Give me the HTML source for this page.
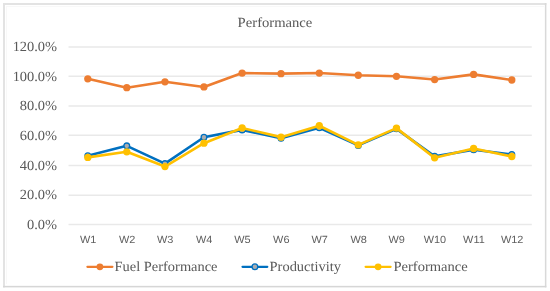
<!DOCTYPE html>
<html lang="en">
<head>
<meta charset="utf-8">
<title>Performance</title>
<style>
html,body{margin:0;padding:0;background:#fff;}
body{width:550px;height:291px;overflow:hidden;}
svg{display:block;}
text{text-rendering:geometricPrecision;}
.ser{font-family:"Liberation Serif","Times New Roman",serif;fill:#595959;}
.san{font-family:"Liberation Sans",Arial,sans-serif;fill:#5e5e5e;}
</style>
</head>
<body>
<svg width="550" height="291" viewBox="0 0 550 291">
<rect x="0" y="0" width="550" height="291" fill="#fff"/>
<rect x="3" y="3" width="2" height="284.4" fill="#e3e3e3"/>
<rect x="3" y="3" width="543.4" height="2" fill="#e3e3e3"/>
<rect x="544.9" y="3" width="1.5" height="284.4" fill="#d9d9d9"/>
<rect x="3" y="285.85" width="543.4" height="1.55" fill="#d6d6d6"/>
<rect x="6" y="6" width="1" height="278" fill="#f8f8f8"/>
<rect x="6" y="6" width="538" height="1" fill="#f8f8f8"/>
<line x1="68.5" x2="531.8" y1="224.60" y2="224.60" stroke="#e9e9e9" stroke-width="1.5"/>
<line x1="68.5" x2="531.8" y1="195.30" y2="195.30" stroke="#e9e9e9" stroke-width="1.5"/>
<line x1="68.5" x2="531.8" y1="165.60" y2="165.60" stroke="#e9e9e9" stroke-width="1.5"/>
<line x1="68.5" x2="531.8" y1="135.30" y2="135.30" stroke="#e9e9e9" stroke-width="1.5"/>
<line x1="68.5" x2="531.8" y1="105.90" y2="105.90" stroke="#e9e9e9" stroke-width="1.5"/>
<line x1="68.5" x2="531.8" y1="76.30" y2="76.30" stroke="#e9e9e9" stroke-width="1.5"/>
<line x1="68.5" x2="531.8" y1="47.10" y2="47.10" stroke="#e9e9e9" stroke-width="1.5"/>
<text transform="translate(57.10,228.70) scale(1.03,1.0)" text-anchor="end" class="ser" font-size="14">0.0%</text>
<text transform="translate(57.10,199.10) scale(1.03,1.0)" text-anchor="end" class="ser" font-size="14">20.0%</text>
<text transform="translate(57.10,169.50) scale(1.03,1.0)" text-anchor="end" class="ser" font-size="14">40.0%</text>
<text transform="translate(57.10,139.90) scale(1.03,1.0)" text-anchor="end" class="ser" font-size="14">60.0%</text>
<text transform="translate(57.10,110.30) scale(1.03,1.0)" text-anchor="end" class="ser" font-size="14">80.0%</text>
<text transform="translate(57.10,80.70) scale(1.03,1.0)" text-anchor="end" class="ser" font-size="14">100.0%</text>
<text transform="translate(57.10,51.10) scale(1.03,1.0)" text-anchor="end" class="ser" font-size="14">120.0%</text>
<text transform="translate(88.09,243.20) scale(1.05,1.0)" text-anchor="middle" class="san" font-size="10.4">W1</text>
<text transform="translate(127.08,243.20) scale(1.05,1.0)" text-anchor="middle" class="san" font-size="10.4">W2</text>
<text transform="translate(165.26,243.20) scale(1.05,1.0)" text-anchor="middle" class="san" font-size="10.4">W3</text>
<text transform="translate(204.24,243.20) scale(1.05,1.0)" text-anchor="middle" class="san" font-size="10.4">W4</text>
<text transform="translate(242.43,243.20) scale(1.05,1.0)" text-anchor="middle" class="san" font-size="10.4">W5</text>
<text transform="translate(281.31,243.20) scale(1.05,1.0)" text-anchor="middle" class="san" font-size="10.4">W6</text>
<text transform="translate(319.59,243.20) scale(1.05,1.0)" text-anchor="middle" class="san" font-size="10.4">W7</text>
<text transform="translate(358.57,243.20) scale(1.05,1.0)" text-anchor="middle" class="san" font-size="10.4">W8</text>
<text transform="translate(396.76,243.20) scale(1.05,1.0)" text-anchor="middle" class="san" font-size="10.4">W9</text>
<text transform="translate(434.94,243.20) scale(1.05,1.0)" text-anchor="middle" class="san" font-size="10.4">W10</text>
<text transform="translate(473.93,243.20) scale(1.05,1.0)" text-anchor="middle" class="san" font-size="10.4">W11</text>
<text transform="translate(512.11,243.20) scale(1.05,1.0)" text-anchor="middle" class="san" font-size="10.4">W12</text>
<text transform="translate(275.00,27.00) scale(1.045,1.0)" text-anchor="middle" class="ser" font-size="14">Performance</text>
<polyline points="87.79,78.82 126.78,87.70 164.96,81.78 203.94,86.96 242.12,73.04 281.01,73.64 319.29,73.04 358.27,75.26 396.46,76.30 434.64,79.56 473.62,74.38 511.81,80.00" fill="none" stroke="#ED7D31" stroke-width="2.6" stroke-linejoin="round" stroke-linecap="round"/>
<circle cx="87.79" cy="78.82" r="3.65" fill="#ED7D31"/>
<circle cx="126.78" cy="87.70" r="3.65" fill="#ED7D31"/>
<circle cx="164.96" cy="81.78" r="3.65" fill="#ED7D31"/>
<circle cx="203.94" cy="86.96" r="3.65" fill="#ED7D31"/>
<circle cx="242.12" cy="73.04" r="3.65" fill="#ED7D31"/>
<circle cx="281.01" cy="73.64" r="3.65" fill="#ED7D31"/>
<circle cx="319.29" cy="73.04" r="3.65" fill="#ED7D31"/>
<circle cx="358.27" cy="75.26" r="3.65" fill="#ED7D31"/>
<circle cx="396.46" cy="76.30" r="3.65" fill="#ED7D31"/>
<circle cx="434.64" cy="79.56" r="3.65" fill="#ED7D31"/>
<circle cx="473.62" cy="74.38" r="3.65" fill="#ED7D31"/>
<circle cx="511.81" cy="80.00" r="3.65" fill="#ED7D31"/>
<polyline points="87.79,155.78 126.78,145.86 164.96,163.62 203.94,137.28 242.12,129.88 281.01,138.31 319.29,127.80 358.27,145.42 396.46,128.84 434.64,156.37 473.62,149.71 511.81,154.44" fill="none" stroke="#0070C0" stroke-width="2.6" stroke-linejoin="round" stroke-linecap="round"/>
<circle cx="87.79" cy="155.78" r="2.85" fill="#ABADB0" stroke="#0070C0" stroke-width="1.3"/>
<circle cx="126.78" cy="145.86" r="2.85" fill="#ABADB0" stroke="#0070C0" stroke-width="1.3"/>
<circle cx="164.96" cy="163.62" r="2.85" fill="#ABADB0" stroke="#0070C0" stroke-width="1.3"/>
<circle cx="203.94" cy="137.28" r="2.85" fill="#ABADB0" stroke="#0070C0" stroke-width="1.3"/>
<circle cx="242.12" cy="129.88" r="2.85" fill="#ABADB0" stroke="#0070C0" stroke-width="1.3"/>
<circle cx="281.01" cy="138.31" r="2.85" fill="#ABADB0" stroke="#0070C0" stroke-width="1.3"/>
<circle cx="319.29" cy="127.80" r="2.85" fill="#ABADB0" stroke="#0070C0" stroke-width="1.3"/>
<circle cx="358.27" cy="145.42" r="2.85" fill="#ABADB0" stroke="#0070C0" stroke-width="1.3"/>
<circle cx="396.46" cy="128.84" r="2.85" fill="#ABADB0" stroke="#0070C0" stroke-width="1.3"/>
<circle cx="434.64" cy="156.37" r="2.85" fill="#ABADB0" stroke="#0070C0" stroke-width="1.3"/>
<circle cx="473.62" cy="149.71" r="2.85" fill="#ABADB0" stroke="#0070C0" stroke-width="1.3"/>
<circle cx="511.81" cy="154.44" r="2.85" fill="#ABADB0" stroke="#0070C0" stroke-width="1.3"/>
<polyline points="87.79,157.40 126.78,151.78 164.96,166.58 203.94,143.20 242.12,127.95 281.01,137.13 319.29,125.73 358.27,144.82 396.46,128.10 434.64,157.85 473.62,148.52 511.81,156.52" fill="none" stroke="#FFC000" stroke-width="2.6" stroke-linejoin="round" stroke-linecap="round"/>
<circle cx="87.79" cy="157.40" r="3.65" fill="#FFC000"/>
<circle cx="126.78" cy="151.78" r="3.65" fill="#FFC000"/>
<circle cx="164.96" cy="166.58" r="3.65" fill="#FFC000"/>
<circle cx="203.94" cy="143.20" r="3.65" fill="#FFC000"/>
<circle cx="242.12" cy="127.95" r="3.65" fill="#FFC000"/>
<circle cx="281.01" cy="137.13" r="3.65" fill="#FFC000"/>
<circle cx="319.29" cy="125.73" r="3.65" fill="#FFC000"/>
<circle cx="358.27" cy="144.82" r="3.65" fill="#FFC000"/>
<circle cx="396.46" cy="128.10" r="3.65" fill="#FFC000"/>
<circle cx="434.64" cy="157.85" r="3.65" fill="#FFC000"/>
<circle cx="473.62" cy="148.52" r="3.65" fill="#FFC000"/>
<circle cx="511.81" cy="156.52" r="3.65" fill="#FFC000"/>
<line x1="87.4" x2="112.4" y1="266.8" y2="266.8" stroke="#ED7D31" stroke-width="2.2" stroke-linecap="round"/>
<circle cx="99.9" cy="266.8" r="3.4" fill="#ED7D31"/>
<text transform="translate(114.60,270.80) scale(1.03,1.0)" text-anchor="start" class="ser" font-size="14">Fuel Performance</text>
<line x1="242.5" x2="267.3" y1="266.8" y2="266.8" stroke="#0070C0" stroke-width="2.2" stroke-linecap="round"/>
<circle cx="254.9" cy="266.8" r="2.85" fill="#ABADB0" stroke="#0070C0" stroke-width="1.3"/>
<text transform="translate(269.60,270.80) scale(1.03,1.0)" text-anchor="start" class="ser" font-size="14">Productivity</text>
<line x1="365.6" x2="390.6" y1="266.8" y2="266.8" stroke="#FFC000" stroke-width="2.2" stroke-linecap="round"/>
<circle cx="378.1" cy="266.8" r="3.4" fill="#FFC000"/>
<text transform="translate(393.40,270.80) scale(1.04,1.0)" text-anchor="start" class="ser" font-size="14">Performance</text>
</svg>
</body>
</html>
